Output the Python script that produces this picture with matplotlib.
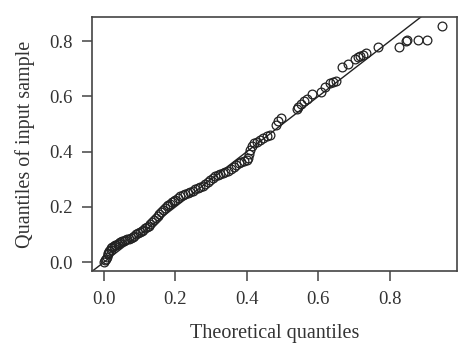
import matplotlib
matplotlib.use("Agg")
import matplotlib.pyplot as plt

# theoretical quantiles vs sample quantiles
theo = [0.000, 0.003, 0.005, 0.008, 0.010, 0.012, 0.015, 0.018, 0.020, 0.023,
        0.027, 0.030, 0.034, 0.038, 0.042, 0.046, 0.050, 0.055, 0.060, 0.065,
        0.070, 0.075, 0.080, 0.085, 0.090, 0.095, 0.100, 0.105, 0.110, 0.115,
        0.120, 0.125, 0.130, 0.135, 0.140, 0.145, 0.150, 0.155, 0.160, 0.165,
        0.170, 0.175, 0.180, 0.185, 0.190, 0.195, 0.200, 0.207, 0.213, 0.220,
        0.228, 0.235, 0.242, 0.249, 0.256, 0.263, 0.270, 0.277, 0.284, 0.291,
        0.298, 0.305, 0.312, 0.318, 0.325, 0.332, 0.340, 0.348, 0.356, 0.363,
        0.370, 0.377, 0.385, 0.393, 0.400, 0.404, 0.407, 0.410, 0.414, 0.420,
        0.428, 0.436, 0.445, 0.456, 0.465, 0.481, 0.487, 0.495, 0.540, 0.543,
        0.552, 0.560, 0.568, 0.582, 0.607, 0.618, 0.632, 0.642, 0.650, 0.666,
        0.683, 0.702, 0.711, 0.718, 0.727, 0.735, 0.767, 0.828, 0.845, 0.848,
        0.881, 0.904, 0.948]
sample = [0.000, 0.007, 0.012, 0.020, 0.028, 0.033, 0.040, 0.045, 0.050, 0.054,
          0.057, 0.060, 0.063, 0.066, 0.069, 0.072, 0.075, 0.077, 0.080, 0.082,
          0.085, 0.087, 0.090, 0.094, 0.100, 0.107, 0.110, 0.113, 0.117, 0.122,
          0.127, 0.132, 0.137, 0.145, 0.152, 0.160, 0.168, 0.175, 0.182, 0.190,
          0.197, 0.203, 0.207, 0.212, 0.218, 0.222, 0.226, 0.232, 0.238, 0.242,
          0.247, 0.250, 0.253, 0.258, 0.263, 0.268, 0.272, 0.277, 0.282, 0.290,
          0.298, 0.305, 0.311, 0.315, 0.318, 0.322, 0.326, 0.330, 0.337, 0.344,
          0.352, 0.360, 0.362, 0.365, 0.370, 0.378, 0.390, 0.405, 0.422, 0.430,
          0.434, 0.442, 0.449, 0.456, 0.462, 0.498, 0.512, 0.522, 0.554, 0.562,
          0.572, 0.582, 0.592, 0.610, 0.616, 0.636, 0.648, 0.652, 0.656, 0.707,
          0.716, 0.737, 0.743, 0.748, 0.752, 0.758, 0.778, 0.778, 0.800, 0.805,
          0.804, 0.804, 0.854]
ref_line = (0.0, 1.0)  # intercept, slope

ticks = [0.0, 0.2, 0.4, 0.6, 0.8]

plt.rcParams["font.family"] = ["Liberation Serif", "DejaVu Serif"]
fig = plt.figure(figsize=(4.74, 3.62), dpi=100)
ax = fig.add_axes([0.194, 0.251, 0.770, 0.702])

ax.plot(theo, sample, "o", mfc="none", mec="#222222", ms=6.3, mew=0.9)
ax.axline((0, ref_line[0]), slope=ref_line[1], color="#222222", lw=1.0)

ax.set_xlim(-0.034, 0.989)
ax.set_ylim(-0.033, 0.888)
ax.set_xticks(ticks)
ax.set_yticks(ticks)
ax.set_xticklabels(["%.1f" % t for t in ticks])
ax.set_yticklabels(["%.1f" % t for t in ticks])
ax.tick_params(direction="out", length=7, width=1.1, color="#444444",
               labelsize=13.5, pad=7, labelcolor="#333333")
for s in ax.spines.values():
    s.set_color("#444444")
    s.set_linewidth(1.2)

ax.set_xlabel("Theoretical quantiles", fontsize=14.5, color="#333333", labelpad=12)
ax.set_ylabel("Quantiles of input sample", fontsize=14.5, color="#333333", labelpad=10)

fig.savefig("out.png", dpi=100)
